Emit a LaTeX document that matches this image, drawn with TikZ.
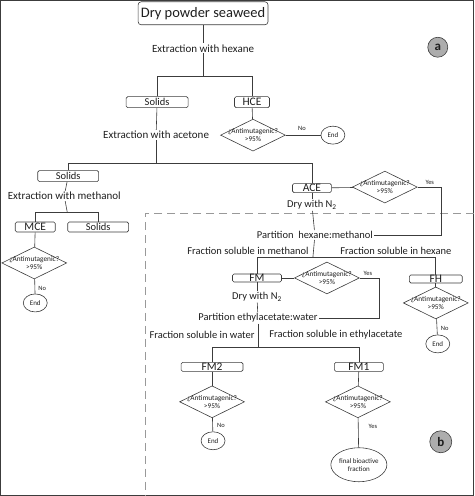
\documentclass[tikz,border=0pt]{standalone}
\usepackage{fontspec}
\setmainfont{Carlito}
\usepackage{tikz}
\usetikzlibrary{shapes.geometric}
\tikzset{>=latex}
\definecolor{ln}{HTML}{3C3C3C}
\definecolor{txt}{HTML}{1E1E1E}
\tikzset{
  box/.style={draw=ln, rounded corners=1.5pt, inner sep=0pt, minimum height=10pt, font=\fontsize{11.5}{11}\selectfont},
  boxs/.style={box, font=\fontsize{10.5}{10}\selectfont},
  lab/.style={inner sep=1pt, font=\fontsize{10.5}{11}\selectfont},
  ques/.style={draw=ln, diamond, aspect=2, inner xsep=-9pt, inner ysep=-2pt, minimum width=65pt, minimum height=32pt, align=center, font=\fontsize{7.3}{7.5}\selectfont},
  fin/.style={draw=ln, ellipse, inner sep=0pt, minimum width=24pt, minimum height=18pt, align=center, font=\fontsize{7}{8}\selectfont},
  yn/.style={inner sep=0pt, font=\fontsize{6.5}{7}\selectfont},
  tag/.style={draw=ln, circle, fill=black!32, inner sep=0pt, minimum size=20pt, font=\bfseries\fontsize{13}{13}\selectfont}
}
\newcommand{\antim}{¿Antimutagenic?\\>95\%}
\begin{document}
\begin{tikzpicture}[x=1pt, y=-1pt, color=txt, every path/.style={draw=ln, line width=0.6pt}]
                \useasboundingbox (0,0) rectangle (474,496);
                \draw[black!40, dash pattern=on 8pt off 5pt, line width=0.8pt] (474,213) -- (145,213) -- (145,496);
                \node[box, rounded corners=3pt, minimum width=130pt, minimum height=23pt, font=\fontsize{14.5}{14}\selectfont] (dry) at (203,13) {Dry powder seaweed};
                \node[lab, font=\fontsize{11}{11}\selectfont] (exhex) at (203,48) {Extraction with hexane};
                \coordinate (j1) at (203,76);
                \node[boxs, minimum width=62pt, minimum height=11pt] (sol1) at (157,102) {Solids};
                \node[box, minimum width=35pt, minimum height=11pt] (hce) at (252,102) {HCE};
                \node[ques] (dhce) at (253,135) {\antim};
                \node[fin] (endhce) at (333,135) {End};
                \node[yn] (nohce) at (302,128) {No};
                \node[lab, font=\fontsize{11}{11}\selectfont] (exace) at (156,135) {Extraction with acetone};
                \coordinate (j2) at (156,163);
                \node[boxs, minimum width=61pt, minimum height=11pt] (sol2) at (68,176) {Solids};
                \node[lab, font=\fontsize{11}{11}\selectfont] (exmeth) at (64,196) {Extraction with methanol};
                \coordinate (j3) at (67,212);
                \node[box, minimum width=40pt] (mce) at (35,227) {MCE};
                \node[boxs, minimum width=61pt] (sol3) at (98,227) {Solids};
                \node[ques] (dmce) at (34,263) {\antim};
                \node[yn] (nomce) at (42,288) {No};
                \node[fin] (endmce) at (35,303) {End};
                \node[box, minimum width=39pt, minimum height=9pt] (ace) at (312,188) {ACE};
                \node[ques] (dace) at (385,187) {\antim};
                \node[yn] (yesace) at (430,182) {Yes};
                \coordinate (c1) at (442,235);
                \node[lab] (dryace) at (312,205) {Dry with N\textsubscript{2}};
                \node[lab] (parthm) at (315,235) {Partition\ \ hexane:methanol};
                \coordinate (j4) at (313,257);
                \node[lab] (fsm) at (248,251) {Fraction soluble in methanol};
                \node[lab] (fsh) at (396,251) {Fraction soluble in hexane};
                \node[box, minimum width=49pt, minimum height=8pt] (fm) at (257,278) {FM};
                \node[box, minimum width=53pt, minimum height=8pt] (fh) at (436,279) {FH};
                \node[ques] (dfm) at (327,278) {\antim};
                \node[yn] (yesfm) at (368,273) {Yes};
                \coordinate (c2) at (379,318);
                \node[lab] (dryfm) at (257,297) {Dry with N\textsubscript{2}};
                \node[lab] (partew) at (258,318) {Partition ethylacetate:water};
                \node[lab] (fsw) at (202,335) {Fraction soluble in water};
                \node[lab] (fse) at (336,335) {Fraction soluble in ethylacetate};
                \coordinate (j5) at (258,347);
                \node[box, minimum width=62pt, minimum height=9pt] (fm2) at (212,367) {FM2};
                \node[box, minimum width=49pt, minimum height=9pt] (fm1) at (359,367) {FM1};
                \node[ques] (dfm2) at (212,402) {\antim};
                \node[yn] (nofm2) at (221,426) {No};
                \node[fin] (endfm2) at (213,441) {End};
                \node[ques] (dfm1) at (358,402) {\antim};
                \node[yn] (yesfm1) at (373,427) {Yes};
                \node[fin, minimum width=51pt, minimum height=34pt] (final) at (359,465) {final bioactive\\fraction};
                \node[ques] (dfh) at (436,303) {\antim};
                \node[yn] (nofh) at (445,329) {No};
                \node[fin] (endfh) at (438,344) {End};
                \node[tag] (a) at (438,47) {a};
                \node[tag, minimum size=22pt] (b) at (441,442) {b};
                \draw (dry) -- (exhex);
                \draw (exhex) -- (j1);
                \draw (sol1.north) |- (j1) -| (hce.north);
                \draw (hce) -- (dhce);
                \draw (dhce) -- (endhce);
                \draw (sol1) -- (exace);
                \draw (exace) -- (j2);
                \draw (sol2.north) |- (j2) -| (ace.north);
                \draw (sol2) -- (exmeth);
                \draw (exmeth) -- (j3);
                \draw (mce.north) |- (j3) -| (sol3.north);
                \draw (mce) -- (dmce);
                \draw (dmce) -- (endmce);
                \draw (ace) -- (dace);
                \draw (dace.east) -| (c1) -- (parthm.east);
                \draw (ace) -- (dryace);
                \draw (dryace) -- (parthm);
                \draw (parthm) -- (j4);
                \draw (fm.north) |- (j4) -| (fh.north);
                \draw (fm) -- (dfm);
                \draw (dfm.east) -| (c2) -- (partew.east);
                \draw (fm) -- (dryfm);
                \draw (dryfm) -- (partew);
                \draw (partew) -- (j5);
                \draw (fm2.north) |- (j5) -| (fm1.north);
                \draw (fh) -- (dfh);
                \draw (dfh) -- (endfh);
                \draw (fm2) -- (dfm2);
                \draw (dfm2) -- (endfm2);
                \draw (fm1) -- (dfm1);
                \draw (dfm1) -- (final);
            \end{tikzpicture}
\end{document}
